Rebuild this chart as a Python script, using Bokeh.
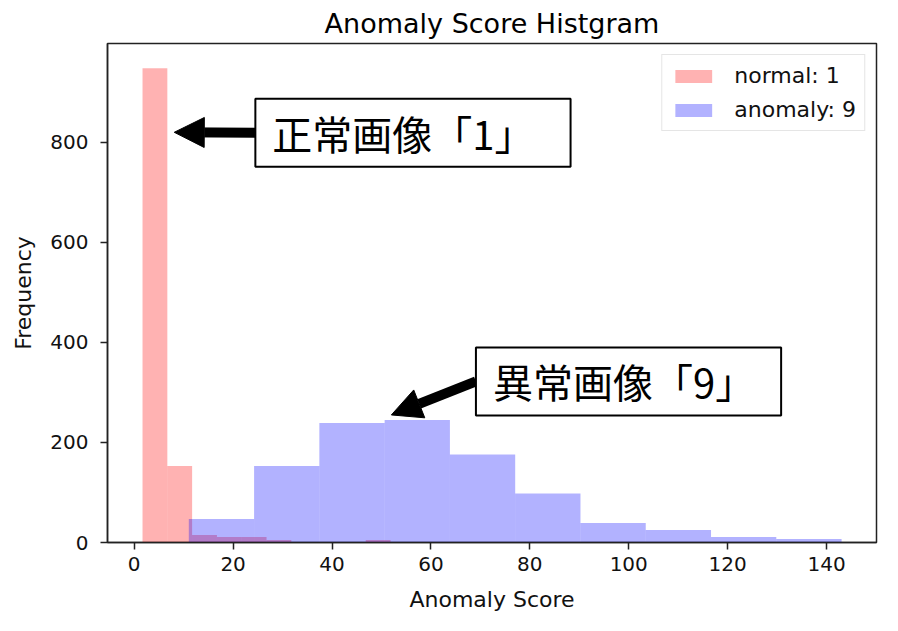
from bokeh.plotting import figure
from bokeh.models import Range1d, FixedTicker, Label, Arrow, NormalHead, Legend, LegendItem
from bokeh.embed import file_html
from bokeh.resources import INLINE

# ---------------- data ----------------
chart_title = "Anomaly Score Histgram"
x_label = "Anomaly Score"
y_label = "Frequency"
normal_label = "normal: 1"
anomaly_label = "anomaly: 9"

normal_edges = [1.68, 6.70, 11.71, 16.73, 21.74, 26.76, 31.77, 36.79, 41.80, 46.82, 51.83]
normal_counts = [948, 153, 15, 11, 11, 5, 0, 0, 0, 5]

anomaly_edges = [11.04, 24.24, 37.44, 50.64, 63.84, 77.04, 90.24, 103.44, 116.64, 129.84, 143.04]
anomaly_counts = [47, 153, 239, 245, 176, 98, 39, 25, 11, 7]

x_ticks = [0, 20, 40, 60, 80, 100, 120, 140]
y_ticks = [0, 200, 400, 600, 800]

note_normal = "正常画像「1」"
note_anomaly = "異常画像「9」"
# annotation anchors (data coords): arrow tip, and text-box anchor
normal_tip = (8.1, 820)
normal_box = (24.5, 819)
anomaly_tip = (52.0, 255)
anomaly_box = (69.1, 322)

# ---------------- figure ----------------
FONT = "DejaVu Sans"
p = figure(width=882, height=615, output_backend="svg", toolbar_location=None,
           x_range=Range1d(-5.4, 150.1), y_range=Range1d(0, 997.5),
           min_border_left=107, min_border_right=6, min_border_top=42, min_border_bottom=73)

p.title.text = chart_title
p.title.text_font = FONT
p.title.text_font_size = "27px"
p.title.text_font_style = "normal"
p.title.text_color = "black"
p.title.align = "center"
p.title.standoff = 10

p.xgrid.visible = False
p.ygrid.visible = False
p.outline_line_color = "#222222"
p.outline_line_width = 1.5
p.outline_line_alpha = 1.0

r_norm = p.quad(left=normal_edges[:-1], right=normal_edges[1:], bottom=0, top=normal_counts,
                fill_color="red", fill_alpha=0.3, line_color=None)
r_anom = p.quad(left=anomaly_edges[:-1], right=anomaly_edges[1:], bottom=0, top=anomaly_counts,
                fill_color="blue", fill_alpha=0.3, line_color=None)

for ax, ticks in ((p.xaxis[0], x_ticks), (p.yaxis[0], y_ticks)):
    ax.ticker = FixedTicker(ticks=ticks)
    ax.minor_tick_line_color = None
    ax.major_tick_in = 0
    ax.major_tick_out = 7
    ax.major_tick_line_width = 1.5
    ax.major_tick_line_color = "#222222"
    ax.axis_line_color = "#222222"
    ax.axis_line_width = 1.5
    ax.major_label_text_font = FONT
    ax.major_label_text_font_size = "20px"
    ax.major_label_text_color = "#111111"
    ax.axis_label_text_font = FONT
    ax.axis_label_text_font_size = "22px"
    ax.axis_label_text_font_style = "normal"
    ax.axis_label_text_color = "#111111"

p.xaxis[0].axis_label = x_label
p.yaxis[0].axis_label = y_label
p.xaxis[0].major_label_standoff = 7
p.xaxis[0].axis_label_standoff = 13
p.yaxis[0].major_label_standoff = 12
p.yaxis[0].axis_label_standoff = 11

legend = Legend(items=[LegendItem(label=normal_label, renderers=[r_norm]),
                       LegendItem(label=anomaly_label, renderers=[r_anom])],
                location="top_right")
legend.label_text_font = FONT
legend.label_text_font_size = "22px"
legend.label_text_color = "#111111"
legend.glyph_width = 46
legend.glyph_height = 16
legend.label_standoff = 18
legend.padding = 8
legend.spacing = 9
legend.margin = 11
legend.border_line_color = "#cccccc"
legend.border_line_width = 1.2
legend.background_fill_alpha = 0.8
p.add_layout(legend)

notes = ((normal_tip, normal_box, note_normal, 36), (anomaly_tip, anomaly_box, note_anomaly, 26))
for (tip, box, txt, pad_right) in notes:
    p.add_layout(Arrow(end=NormalHead(size=30, fill_color="black", line_color="black"),
                       x_start=box[0], y_start=box[1], x_end=tip[0], y_end=tip[1],
                       line_width=10, line_color="black"))
    p.add_layout(Label(x=box[0], y=box[1], text=txt, text_font="Noto Sans CJK JP",
                       text_font_size="40px", text_color="black",
                       text_align="left", text_baseline="middle",
                       background_fill_color="white", border_line_color="black",
                       border_line_width=2,
                       padding=dict(left=17, right=pad_right, top=5, bottom=5)))

open("out.html", "w").write(file_html(p, INLINE))
